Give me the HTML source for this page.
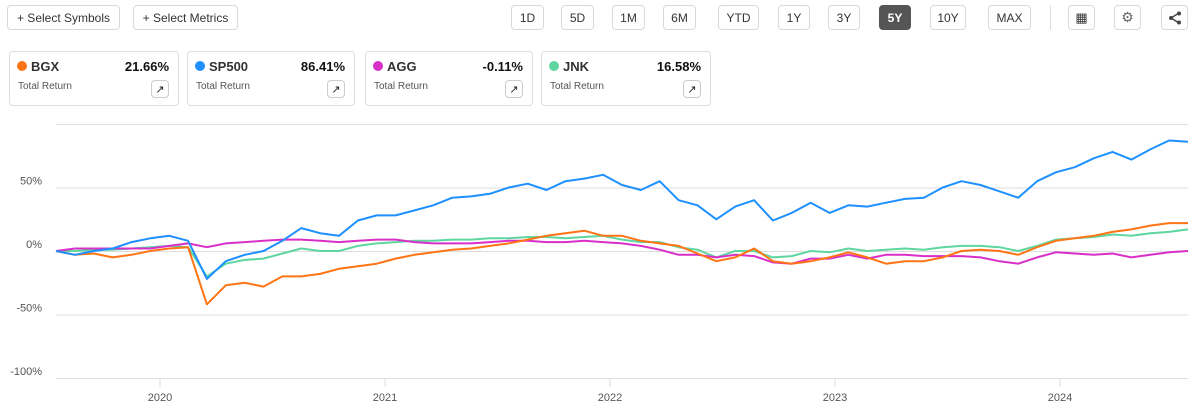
<!DOCTYPE html>
<html><head><meta charset="utf-8"><style>
body{margin:0;width:1197px;height:420px;background:#fff;font-family:"Liberation Sans",sans-serif;position:relative;overflow:hidden;color:#222}
.btn{position:absolute;top:5px;height:25px;border:1px solid #d9d9d9;border-radius:4px;box-sizing:border-box;font-size:12px;color:#333;display:flex;align-items:center;justify-content:center;background:#fff}
.btn.on{background:#555;color:#fff;border-color:#555;font-weight:bold}
.card{position:absolute;top:51px;height:55px;border:1px solid #ddd;border-radius:4px;box-sizing:border-box}
.card .dot{position:absolute;left:7px;top:9px;width:10px;height:10px;border-radius:50%}
.card .sym{position:absolute;left:21px;top:7px;font-size:13px;font-weight:bold;color:#333}
.card .val{position:absolute;right:9px;top:7px;font-size:13px;font-weight:bold;color:#111}
.card .lab{position:absolute;left:8px;top:29px;font-size:10px;color:#555}
.card .ic{position:absolute;right:9px;top:28px;width:18px;height:18px;border:1px solid #ccc;border-radius:4px;box-sizing:border-box;font-size:11px;display:flex;align-items:center;justify-content:center}
</style></head><body>
<div class="btn" style="left:7px;width:113px">+ Select Symbols</div>
<div class="btn" style="left:133px;width:105px">+ Select Metrics</div>
<div class="btn" style="left:511px;width:33px">1D</div>
<div class="btn" style="left:561px;width:33px">5D</div>
<div class="btn" style="left:612px;width:33px">1M</div>
<div class="btn" style="left:663px;width:33px">6M</div>
<div class="btn" style="left:718px;width:41px">YTD</div>
<div class="btn" style="left:778px;width:32px">1Y</div>
<div class="btn" style="left:828px;width:32px">3Y</div>
<div class="btn on" style="left:879px;width:32px">5Y</div>
<div class="btn" style="left:930px;width:36px">10Y</div>
<div class="btn" style="left:988px;width:43px">MAX</div>
<div style="position:absolute;left:1050px;top:5px;width:1px;height:25px;background:#ddd"></div>
<div class="btn" style="left:1068px;width:27px;font-size:13px">▦</div>
<div class="btn" style="left:1114px;width:27px;font-size:14px;color:#666">⚙</div>
<div class="btn" style="left:1161px;width:27px"><svg width="14" height="14" viewBox="0 0 14 14"><path d="M11 2L3 7L11 12" stroke="#444" stroke-width="1.5" fill="none"/><circle cx="11" cy="2.5" r="2" fill="#444"/><circle cx="3" cy="7" r="2" fill="#444"/><circle cx="11" cy="11.5" r="2" fill="#444"/></svg></div>

<div class="card" style="left:9px;width:170px"><span class="dot" style="background:#ff7414"></span><span class="sym">BGX</span><span class="val">21.66%</span><span class="lab">Total Return</span><span class="ic">↗</span></div>
<div class="card" style="left:187px;width:168px"><span class="dot" style="background:#1e90ff"></span><span class="sym">SP500</span><span class="val">86.41%</span><span class="lab">Total Return</span><span class="ic">↗</span></div>
<div class="card" style="left:365px;width:168px"><span class="dot" style="background:#d92fc9"></span><span class="sym">AGG</span><span class="val">-0.11%</span><span class="lab">Total Return</span><span class="ic">↗</span></div>
<div class="card" style="left:541px;width:170px"><span class="dot" style="background:#5fd6a0"></span><span class="sym">JNK</span><span class="val">16.58%</span><span class="lab">Total Return</span><span class="ic">↗</span></div>

<svg id="chart" width="1197" height="420" style="position:absolute;left:0;top:0"></svg>
<script>
const yTicks=[100,50,0,-50,-100];
const yTickLabels=["","50%","0%","-50%","-100%"];
const xTickYears=[2020,2021,2022,2023,2024];
const bgx=[0,-3,-2,-5,-3,0,2,3,-42,-27,-25,-28,-20,-20,-18,-14,-12,-10,-6,-3,-1,1,2,4,6,9,12,14,16,12,12,8,6,4,-2,-8,-5,2,-8,-10,-8,-5,-1,-5,-10,-8,-8,-5,0,1,0,-3,3,8,10,12,15,17,20,22,22];
const sp500=[0,-3,0,2,7,10,12,8,-22,-8,-3,0,8,18,14,12,24,28,28,32,36,42,43,45,50,53,48,55,57,60,52,48,55,40,36,25,35,40,24,30,38,30,36,35,38,41,42,50,55,52,47,42,55,62,66,73,78,72,80,87,86];
const agg=[0,2,2,2,2,2,4,6,3,6,7,8,9,9,8,7,8,9,9,7,6,6,6,7,8,8,7,7,8,7,6,4,1,-3,-3,-5,-3,-4,-9,-10,-6,-6,-3,-6,-3,-3,-4,-4,-4,-5,-8,-10,-5,-1,-2,-3,-2,-5,-3,-1,0];
const jnk=[0,0,1,1,2,3,4,3,-20,-10,-7,-6,-2,2,0,0,4,6,7,8,8,9,9,10,10,11,11,10,11,12,9,7,7,3,1,-5,0,0,-5,-4,0,-1,2,0,1,2,1,3,4,4,3,0,4,9,10,11,13,12,14,15,17];
const seriesNames=["jnk","agg","bgx","sp500"];
const seriesData=[jnk,agg,bgx,sp500];
const seriesColors=["#5fd6a0","#d92fc9","#ff7414","#1e90ff"];

const L=56,R=1188,Y0=251,PX=63.5/50;
const x0=160, pxYear=225;
function xYear(t){return x0+(t-2020)*pxYear;}
function xIdx(i,n){return L+i*(R-L)/(n-1);}
function yv(v){return Y0-v*PX;}
const svg=document.getElementById('chart');
const NS="http://www.w3.org/2000/svg";
yTicks.forEach((v,i)=>{
  const l=document.createElementNS(NS,'line');
  
  
  l.setAttribute('x1',L);l.setAttribute('x2',R);l.setAttribute('y1',yv(v)+0.5);l.setAttribute('y2',yv(v)+0.5);
  l.setAttribute('stroke','#ddd');l.setAttribute('stroke-width','1');svg.appendChild(l);
  if(yTickLabels[i]){const t=document.createElementNS(NS,'text');
  
  
  t.setAttribute('x',42);t.setAttribute('y',yv(v)-3);t.setAttribute('text-anchor','end');
  t.setAttribute('font-size','11');t.setAttribute('fill','#555');t.setAttribute('font-family','Liberation Sans, sans-serif');
  t.textContent=yTickLabels[i];svg.appendChild(t);}
});
xTickYears.forEach(yr=>{
  const x=xYear(yr);
  const l=document.createElementNS(NS,'line');
  
  
  l.setAttribute('x1',x);l.setAttribute('x2',x);l.setAttribute('y1',378);l.setAttribute('y2',387);
  l.setAttribute('stroke','#ddd');svg.appendChild(l);
  const t=document.createElementNS(NS,'text');
  
  
  t.setAttribute('x',x);t.setAttribute('y',401);t.setAttribute('text-anchor','middle');
  t.setAttribute('font-size','11');t.setAttribute('fill','#555');t.setAttribute('font-family','Liberation Sans, sans-serif');
  t.textContent=yr;svg.appendChild(t);
});
seriesData.forEach((d,k)=>{
  const p=document.createElementNS(NS,'polyline');
  
  
  p.setAttribute('points',d.map((v,i)=>xIdx(i,d.length).toFixed(1)+','+yv(v).toFixed(1)).join(' '));
  p.setAttribute('fill','none');p.setAttribute('stroke',seriesColors[k]);p.setAttribute('stroke-width','2');
  p.setAttribute('stroke-linejoin','round');svg.appendChild(p);
});
</script>
</body></html>
